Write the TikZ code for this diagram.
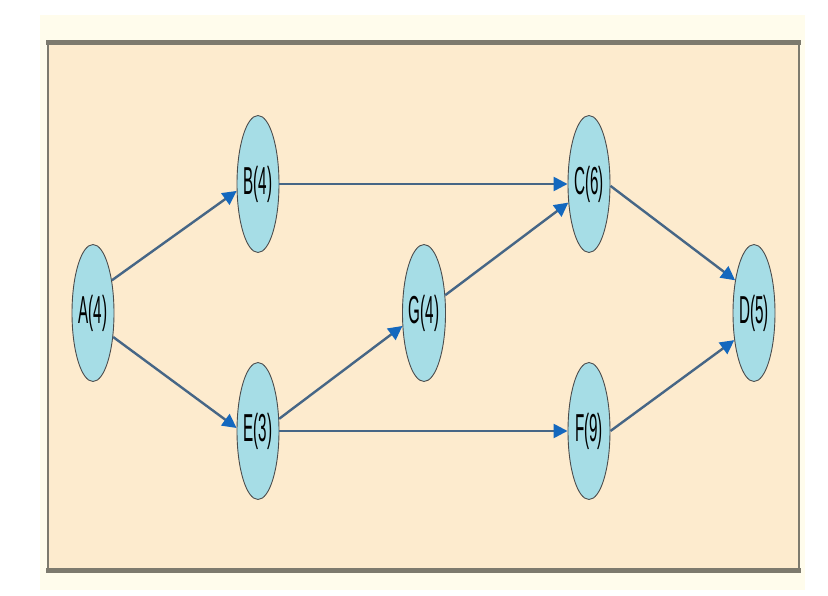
\documentclass[tikz,border=0pt]{standalone}
\usepackage{fontspec}
\usepackage{xcolor}
\usepackage{tikz}
\usetikzlibrary{arrows.meta,shapes.geometric}
\newfontfamily\nodefont[FakeStretch=0.39]{Liberation Sans}
\definecolor{panelfill}{RGB}{253,235,206}
\definecolor{pagefill}{RGB}{255,252,236}
\definecolor{nodefill}{RGB}{166,221,230}
\definecolor{edgeline}{RGB}{70,102,134}
\definecolor{tipblue}{RGB}{20,104,190}
\definecolor{rulegray}{RGB}{125,122,110}

\begin{document}
\begin{tikzpicture}[x=1pt, y=-1pt,
		task/.style={ellipse, draw=black!70, fill=nodefill, line width=.9pt, minimum width=42pt, minimum height=137pt, inner sep=0pt, font=\nodefont\fontsize{39}{39}\selectfont},
		link/.style={draw=edgeline, line width=2.4pt, -{Triangle[length=14pt,width=14pt,color=tipblue]}}]
	\useasboundingbox (0,0) rectangle (828,596);
	% page and panel
	\fill[white] (0,0) rectangle (828,596);
	\fill[pagefill] (40,15) rectangle (805,590);
	\fill[panelfill] (48,43) rectangle (799,570);
	\draw[rulegray, line width=1.3pt] (48,43) -- (48,570) (799,43) -- (799,570);
	\draw[rulegray, line width=5pt] (46,43) -- (801,43) (46,570) -- (801,570);
	
	% activities with their durations
	\foreach \name/\xpos/\ypos/\dur in {A/93/313/4, B/258/184/4, C/589/184/6, D/754/313/5, E/258/431/3, F/589/431/9, G/424/313/4} {
		\node[task] (\name) at (\xpos,\ypos) {\name(\dur)};
	}
	
	% precedence arrows
	\foreach \from/\fa/\to/\ta in {A/60/B/198, A/310/E/172, B/east/C/west, E/east/F/west, E/30/G/211, G/40/C/222, C/355/D/120, F/east/D/234} {
		\draw[link] (\from.\fa) -- (\to.\ta);
	}
\end{tikzpicture}
\end{document}
